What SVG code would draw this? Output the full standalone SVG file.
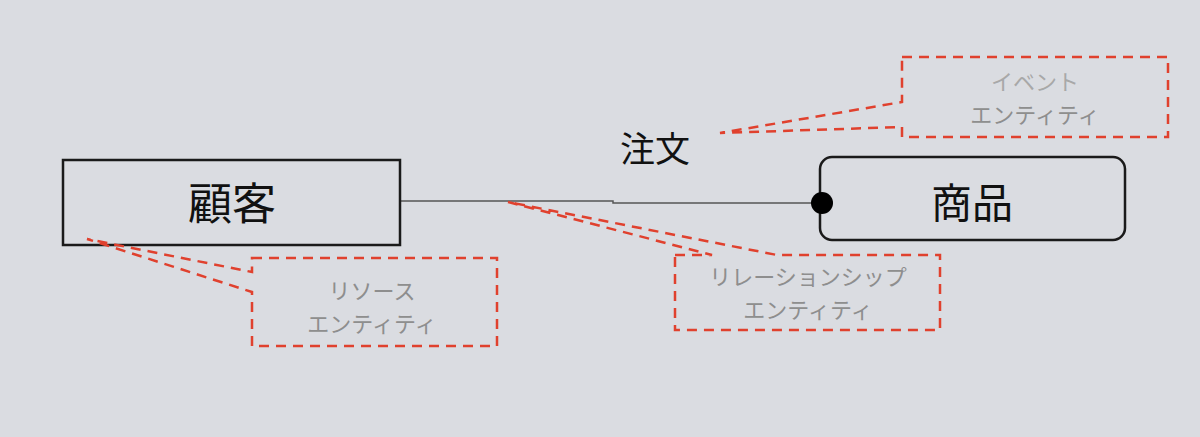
<svg xmlns="http://www.w3.org/2000/svg" width="1200" height="437" viewBox="0 0 1200 437">
<style>
.bg{fill:#dadce1}
.ent{fill:#dadce1;stroke:#1a1a1a;stroke-width:2.5}
.lbl{font-family:"Noto Sans CJK JP","Liberation Sans",sans-serif;fill:#111;text-anchor:middle}
.call{fill:none;stroke:#e0412e;stroke-width:2.5;stroke-dasharray:10 7}
.ctext{font-family:"Noto Sans CJK JP","Liberation Sans",sans-serif;fill:#8e8e8e;font-size:22px;text-anchor:middle}
</style>
<rect class="bg" x="0" y="0" width="1200" height="437"/>
<g id="connectors">
<path d="M400,201 H613 V203 H812" fill="none" stroke="#555" stroke-width="1.5"/>
</g>
<g id="customer">
<rect class="ent" x="63" y="160" width="337" height="85"/>
<text class="lbl" x="232" y="220" font-size="44">顧客</text>
</g>
<g id="product">
<rect class="ent" x="820" y="157" width="305" height="83" rx="12"/>
<circle cx="822" cy="203" r="11" fill="#000"/>
<text class="lbl" x="972" y="218" font-size="41">商品</text>
</g>
<g id="order">
<text class="lbl" x="655" y="162" font-size="35">注文</text>
</g>
<g id="callout-resource">
<path class="call" d="M252,258 H497 V346 H252 V292 L87,239 L252,272 Z"/>
<text class="ctext" x="372" y="299">リソース</text>
<text class="ctext" x="372" y="332">エンティティ</text>
</g>
<g id="callout-relationship">
<path class="call" d="M675,255 H712 L508,202 L777,255 H940 V330 H675 Z"/>
<text class="ctext" x="808" y="285">リレーションシップ</text>
<text class="ctext" x="808" y="318">エンティティ</text>
</g>
<g id="callout-event">
<path class="call" d="M902,57 H1168 V137 H902 V127 L720,133 L902,102 Z"/>
<text class="ctext" x="1035" y="90" style="fill:#a8a8a8">イベント</text>
<text class="ctext" x="1035" y="123">エンティティ</text>
</g>
</svg>
